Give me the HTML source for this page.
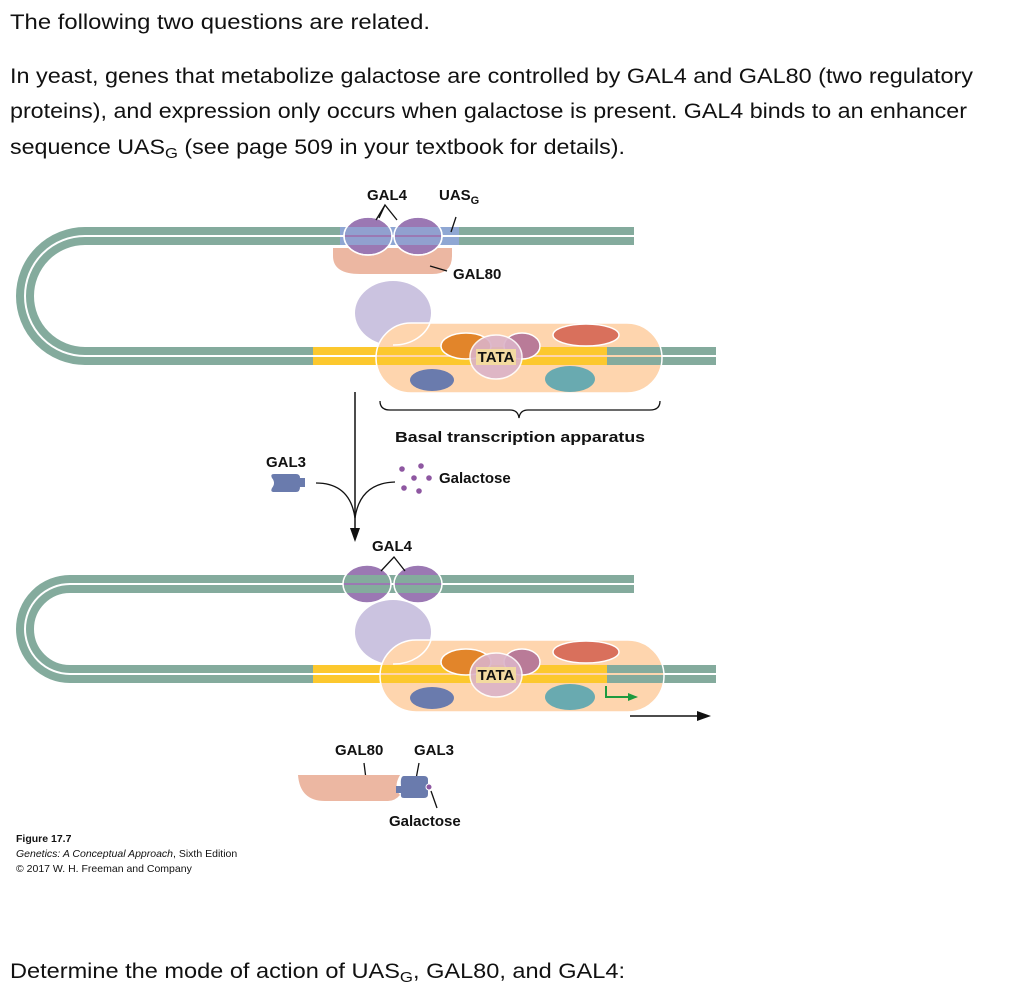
<!DOCTYPE html>
<html><head><meta charset="utf-8"><style>
html,body{margin:0;padding:0;background:#fff}
svg{display:block}
text{font-family:"Liberation Sans",sans-serif;fill:#111}
.b{font-weight:bold;font-size:15px}
.t{font-size:21px}
</style></head><body>
<svg width="1024" height="1006" viewBox="0 0 1024 1006" xmlns="http://www.w3.org/2000/svg">
<!-- paragraph text -->
<text class="t" x="10" y="29" textLength="420" lengthAdjust="spacingAndGlyphs">The following two questions are related.</text>
<text class="t" x="10" y="83" textLength="963" lengthAdjust="spacingAndGlyphs">In yeast, genes that metabolize galactose are controlled by GAL4 and GAL80 (two regulatory</text>
<text class="t" x="10" y="118" textLength="957" lengthAdjust="spacingAndGlyphs">proteins), and expression only occurs when galactose is present. GAL4 binds to an enhancer</text>
<text class="t" x="10" y="154" textLength="615" lengthAdjust="spacingAndGlyphs">sequence UAS<tspan font-size="15" dy="4">G</tspan><tspan dy="-4"> (see page 509 in your textbook for details).</tspan></text>
<text class="t" x="10" y="978" textLength="615" lengthAdjust="spacingAndGlyphs">Determine the mode of action of UAS<tspan font-size="15" dy="4">G</tspan><tspan dy="-4">, GAL80, and GAL4:</tspan></text>

<!-- ===== TOP DIAGRAM ===== -->
<!-- DNA loop -->
<path d="M634,231 H85 A65,65 0 0 0 85,361 H716" fill="none" stroke="#84ab9d" stroke-width="8"/>
<path d="M634,241 H85 A55,55 0 0 0 85,351 H716" fill="none" stroke="#84ab9d" stroke-width="8"/>
<rect x="313" y="347" width="294" height="8" fill="#fcc82e"/>
<rect x="313" y="357" width="294" height="8" fill="#fcc82e"/>
<!-- UAS -->
<rect x="340" y="227" width="119" height="8" fill="#8fa7d3"/>
<rect x="340" y="237" width="119" height="8" fill="#8fa7d3"/>
<!-- GAL80 -->
<path d="M333,248 H452 V256 Q452,274 432,274 H360 Q333,274 333,256 Z" fill="#ecb7a2"/>
<!-- GAL4 -->
<g>
<clipPath id="c1"><rect x="300" y="200" width="200" height="100"/></clipPath>
<ellipse cx="368" cy="236" rx="24" ry="19" fill="#9b78b3" stroke="#fff" stroke-width="1.5"/>
<ellipse cx="418" cy="236" rx="24" ry="19" fill="#9b78b3" stroke="#fff" stroke-width="1.5"/>
<rect x="345" y="227" width="96" height="8" fill="#8fa7d3" opacity="0.85"/>
<rect x="345" y="237" width="96" height="8" fill="#8fa7d3" opacity="0.85"/>
<ellipse cx="368" cy="236" rx="24" ry="19" fill="none" stroke="#fff" stroke-width="1.5"/>
<ellipse cx="418" cy="236" rx="24" ry="19" fill="none" stroke="#fff" stroke-width="1.5"/>
</g>
<!-- basal apparatus -->
<ellipse cx="393" cy="313" rx="38" ry="32" fill="#cbc3e0"/>
<rect x="376" y="323" width="286" height="70" rx="35" fill="#fed5ae"/>
<rect x="376" y="347" width="231" height="8" fill="#fcc82e"/>
<rect x="376" y="357" width="231" height="8" fill="#fcc82e"/>
<rect x="607" y="347" width="55" height="8" fill="#84ab9d"/>
<rect x="607" y="357" width="55" height="8" fill="#84ab9d"/>
<rect x="376" y="323" width="286" height="70" rx="35" fill="none" stroke="#fff" stroke-width="1.5"/>
<path d="M431,320 A38,32 0 0 1 393,345" fill="none" stroke="#fff" stroke-width="1.5"/>
<ellipse cx="466" cy="346" rx="25" ry="13" fill="#e2852a" stroke="#fff" stroke-width="1.5"/>
<ellipse cx="522" cy="346" rx="18" ry="13" fill="#b97b98" stroke="#fff" stroke-width="1.5"/>
<ellipse cx="496" cy="357" rx="26" ry="22" fill="#dbb3c8" opacity="0.9" stroke="#fff" stroke-width="1.5"/>
<rect x="476" y="349" width="40" height="16" fill="#f7e39a" opacity="0.8"/>
<text class="b" x="496" y="362" text-anchor="middle" font-size="13">TATA</text>
<ellipse cx="586" cy="335" rx="33" ry="11" fill="#d9705c" stroke="#fff" stroke-width="1.5"/>
<ellipse cx="432" cy="380" rx="22" ry="11" fill="#6a7bad"/>
<ellipse cx="570" cy="379" rx="25" ry="13" fill="#69aab0"/>
<!-- labels top -->
<text class="b" x="367" y="200">GAL4</text>
<text class="b" x="439" y="200">UAS<tspan font-size="11" dy="4">G</tspan></text>
<path d="M379,218 L385,205 L397,220 M385,205 L376,220" fill="none" stroke="#111" stroke-width="1.3"/>
<line x1="456" y1="217" x2="451" y2="232" stroke="#111" stroke-width="1.3"/>
<line x1="430" y1="266" x2="447" y2="271" stroke="#111" stroke-width="1.3"/>
<text class="b" x="453" y="279">GAL80</text>
<!-- brace -->
<path d="M380,401 Q380,410 390,410 H510 Q518,410 519,418 Q520,410 528,410 H650 Q660,410 660,401" fill="none" stroke="#111" stroke-width="1.3"/>
<text class="b" x="395" y="442" textLength="250" lengthAdjust="spacingAndGlyphs">Basal transcription apparatus</text>

<!-- middle arrows -->
<line x1="355" y1="392" x2="355" y2="530" stroke="#111" stroke-width="1.5"/>
<polygon points="350,528 360,528 355,542" fill="#111"/>
<path d="M316,483 Q350,483 355,518 Q360,483 395,482" fill="none" stroke="#111" stroke-width="1.3"/>
<text class="b" x="266" y="467">GAL3</text>
<path d="M274,474 H296 Q300,474 300,478 H305 V487 H300 Q300,492 296,492 H274 Q270,492 272,488 Q276,483 272,478 Q270,474 274,474Z" fill="#6a7bad"/>
<g fill="#8e57a1">
<circle cx="402" cy="469" r="2.8"/><circle cx="421" cy="466" r="2.8"/><circle cx="414" cy="478" r="2.8"/>
<circle cx="429" cy="478" r="2.8"/><circle cx="404" cy="488" r="2.8"/><circle cx="419" cy="491" r="2.8"/>
</g>
<text class="b" x="439" y="483">Galactose</text>

<!-- ===== BOTTOM DIAGRAM ===== -->
<path d="M634,579 H70 A50,50 0 0 0 70,679 H716" fill="none" stroke="#84ab9d" stroke-width="8"/>
<path d="M634,589 H70 A40,40 0 0 0 70,669 H716" fill="none" stroke="#84ab9d" stroke-width="8"/>
<rect x="313" y="665" width="294" height="8" fill="#fcc82e"/>
<rect x="313" y="675" width="294" height="8" fill="#fcc82e"/>
<ellipse cx="367" cy="584" rx="24" ry="19" fill="#9b78b3"/>
<ellipse cx="418" cy="584" rx="24" ry="19" fill="#9b78b3"/>
<rect x="343" y="575" width="100" height="8" fill="#84ab9d"/>
<rect x="343" y="585" width="100" height="8" fill="#84ab9d"/>
<ellipse cx="367" cy="584" rx="24" ry="19" fill="none" stroke="#fff" stroke-width="1.5"/>
<ellipse cx="418" cy="584" rx="24" ry="19" fill="none" stroke="#fff" stroke-width="1.5"/>
<text class="b" x="372" y="551">GAL4</text>
<path d="M381,571 L394,557 L405,571" fill="none" stroke="#111" stroke-width="1.3"/>
<ellipse cx="393" cy="632" rx="38" ry="32" fill="#cbc3e0"/>
<rect x="380" y="640" width="284" height="72" rx="36" fill="#fed5ae"/>
<rect x="380" y="665" width="227" height="8" fill="#fcc82e"/>
<rect x="380" y="675" width="227" height="8" fill="#fcc82e"/>
<rect x="607" y="665" width="57" height="8" fill="#84ab9d"/>
<rect x="607" y="675" width="57" height="8" fill="#84ab9d"/>
<rect x="380" y="640" width="284" height="72" rx="36" fill="none" stroke="#fff" stroke-width="1.5"/>
<path d="M431,640 A38,32 0 0 1 393,664" fill="none" stroke="#fff" stroke-width="1.5"/>
<ellipse cx="466" cy="662" rx="25" ry="13" fill="#e2852a" stroke="#fff" stroke-width="1.5"/>
<ellipse cx="522" cy="662" rx="18" ry="13" fill="#b97b98" stroke="#fff" stroke-width="1.5"/>
<ellipse cx="496" cy="675" rx="26" ry="22" fill="#dbb3c8" opacity="0.9" stroke="#fff" stroke-width="1.5"/>
<rect x="476" y="667" width="40" height="16" fill="#f7e39a" opacity="0.8"/>
<text class="b" x="496" y="680" text-anchor="middle" font-size="13">TATA</text>
<ellipse cx="586" cy="652" rx="33" ry="11" fill="#d9705c" stroke="#fff" stroke-width="1.5"/>
<ellipse cx="432" cy="698" rx="22" ry="11" fill="#6a7bad"/>
<ellipse cx="570" cy="697" rx="25" ry="13" fill="#69aab0"/>
<path d="M606,686 V697 H630" fill="none" stroke="#1e9a3f" stroke-width="2"/>
<polygon points="628,693 638,697 628,701" fill="#1e9a3f"/>
<line x1="630" y1="716" x2="700" y2="716" stroke="#111" stroke-width="1.5"/>
<polygon points="697,711 711,716 697,721" fill="#111"/>

<!-- bottom complex -->
<text class="b" x="335" y="755">GAL80</text>
<text class="b" x="414" y="755">GAL3</text>
<line x1="364" y1="763" x2="366" y2="779" stroke="#111" stroke-width="1.3"/>
<line x1="419" y1="763" x2="416" y2="779" stroke="#111" stroke-width="1.3"/>
<path d="M298,775 H400 Q393,787 400,795 Q395,801 388,801 H325 Q300,801 298,775Z" fill="#ecb7a2"/>
<path d="M404,776 H424 Q428,776 428,780 V794 Q428,798 424,798 H404 Q400,798 401,793 H396 V786 H401 Q400,776 404,776Z" fill="#6a7bad"/>
<circle cx="429" cy="787" r="3" fill="#8e57a1" stroke="#fff" stroke-width="1"/>
<line x1="431" y1="791" x2="437" y2="808" stroke="#111" stroke-width="1.3"/>
<text class="b" x="389" y="826">Galactose</text>

<!-- caption -->
<text x="16" y="842" font-size="10.5" font-weight="bold">Figure 17.7</text>
<text x="16" y="857" font-size="10.5"><tspan font-style="italic">Genetics: A Conceptual Approach</tspan>, Sixth Edition</text>
<text x="16" y="872" font-size="10.5">© 2017 W. H. Freeman and Company</text>
</svg>
</body></html>
